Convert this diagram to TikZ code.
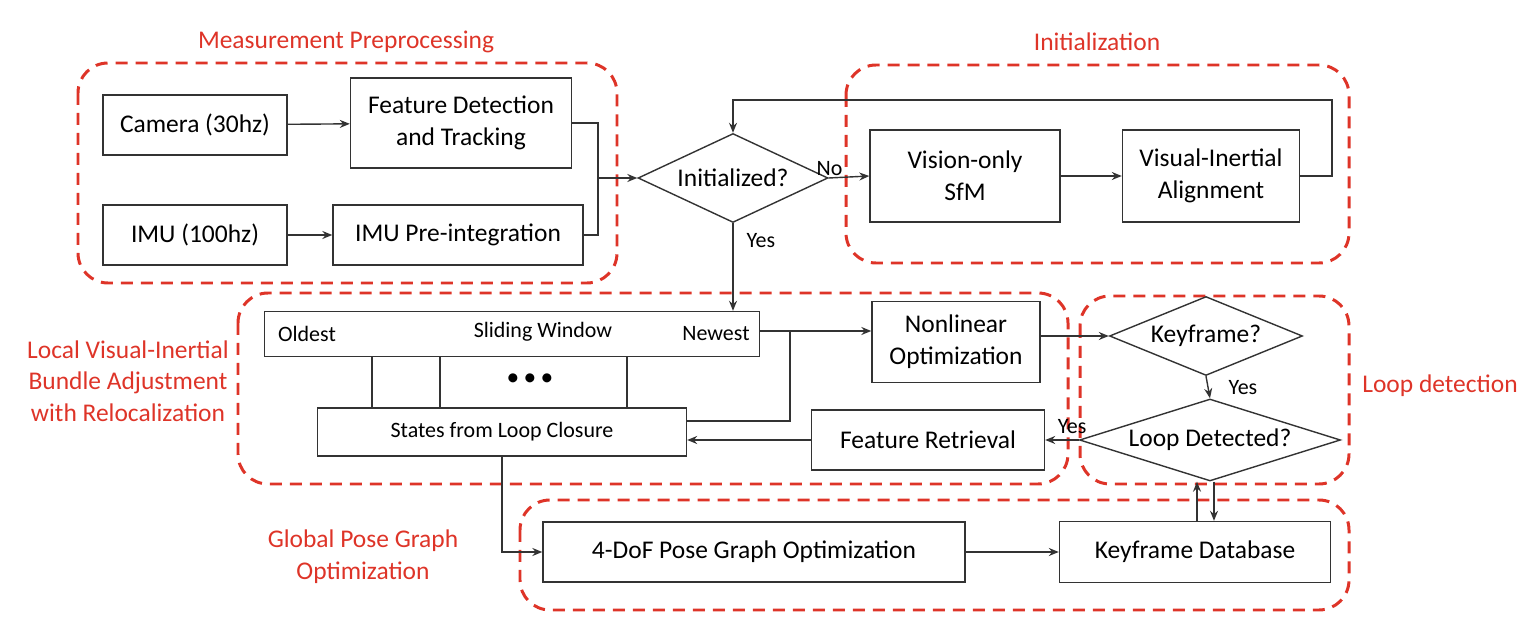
\documentclass[tikz,border=0pt]{standalone}
\usepackage{fontspec}
\setmainfont{Carlito}
\usetikzlibrary{arrows.meta,positioning,shapes.geometric}
\definecolor{grpred}{RGB}{222,52,40}
\begin{document}
\begin{tikzpicture}
  [x=0.02cm,y=-0.02cm,font=\fontsize{14.5}{18}\selectfont,
   block/.style={rectangle,draw=black!80,line width=0.8pt,align=center,inner sep=2pt},
   decision/.style={diamond,draw=black!80,line width=0.8pt,align=center,inner sep=0pt},
   group/.style={draw=grpred,line width=1.7pt,dash pattern=on 0.24cm off 0.16cm,rounded corners=0.6cm},
   grplabel/.style={text=grpred,align=center},
   small/.style={font=\fontsize{12.5}{15}\selectfont},
   flow/.style={line width=0.8pt,draw=black!80,-{Stealth[length=2mm,width=1.6mm]}},
   link/.style={line width=0.8pt,draw=black!80}]
  \useasboundingbox (0,0) rectangle (1539,621);
  % groups
  \draw[group] (78,63) rectangle (617,283);
  \draw[group] (846,65) rectangle (1349,263);
  \draw[group] (238,293) rectangle (1068,484);
  \draw[group] (1080,296) rectangle (1349,484);
  \draw[group] (520,500) rectangle (1349,610);
  \node[grplabel] (lbl_mp) at (346,42) {Measurement Preprocessing};
  \node[grplabel] (lbl_init) at (1097,42) {Initialization};
  \node[grplabel] (lbl_local) at (128,381) {Local Visual-Inertial\\Bundle Adjustment\\with Relocalization};
  \node[grplabel] (lbl_loop) at (1440,386) {Loop detection};
  \node[grplabel] (lbl_global) at (363,557) {Global Pose Graph\\Optimization};
  % blocks
  \node[block,minimum width=3.68cm,minimum height=1.2cm] (camera) at (195,125) {Camera (30hz)};
  \node[block,minimum width=4.42cm,minimum height=1.8cm] (feat) at (461,123) {Feature Detection\\and Tracking};
  \node[block,minimum width=3.68cm,minimum height=1.2cm] (imu) at (195,235) {IMU (100hz)};
  \node[block,minimum width=5cm,minimum height=1.2cm] (preint) at (458,235) {IMU Pre-integration};
  \node[decision,aspect=2.1,minimum width=3.8cm,minimum height=1.78cm] (initq) at (733,178) {Initialized?};
  \node[block,minimum width=3.8cm,minimum height=1.84cm] (sfm) at (965,176) {Vision-only\\SfM};
  \node[block,minimum width=3.54cm,minimum height=1.84cm] (align) at (1211,176) {Visual-Inertial\\Alignment};
  \node[block,minimum width=9.9cm,minimum height=0.9cm] (window) at (512,334) {};
  \node[small] (oldest) at (307,334) {Oldest};
  \node[small] (wintext) at (543,332) {Sliding Window};
  \node[small] (newest) at (716,334) {Newest};
  \node[block,small,minimum width=7.38cm,minimum height=0.96cm] (states) at (502,432) {States from Loop Closure};
  \node (dots) at (530,380) {\textbullet\,\textbullet\,\textbullet};
  \node[block,minimum width=3.36cm,minimum height=1.62cm] (nonlin) at (956,342) {Nonlinear\\Optimization};
  \node[block,minimum width=4.66cm,minimum height=1.2cm] (retrieve) at (928,440) {Feature Retrieval};
  \node[decision,aspect=2.45,minimum width=3.86cm,minimum height=1.58cm] (keyq) at (1206,336) {Keyframe?};
  \node[decision,aspect=3.2,minimum width=5.22cm,minimum height=1.64cm] (loopq) at (1210,440) {Loop Detected?};
  \node[block,minimum width=8.44cm,minimum height=1.2cm] (posegraph) at (754,552) {4-DoF Pose Graph Optimization};
  \node[block,minimum width=5.42cm,minimum height=1.22cm] (database) at (1195,552) {Keyframe Database};
  % connectors
  \coordinate (merge) at (598,178);
  \coordinate (back) at (1332,100);
  \coordinate (branch) at (790,331);
  \draw[flow] (camera) -- (feat);
  \draw[flow] (imu) -- (preint);
  \draw[link] (feat.east) -| (merge);
  \draw[link] (preint.east) -| (merge);
  \draw[flow] (merge) -- (initq.west);
  \draw[flow] (initq.east) -- node[above left=-3pt and 0pt,small] {No} (sfm.west);
  \draw[flow] (sfm) -- (align);
  \draw[flow] (align.east) -| (back) -| (initq.north);
  \draw[flow] (initq.south) -- node[right=4pt,pos=0.2,small] {Yes} (window.north -| initq.south);
  \draw[flow] (window.east |- branch) -- (branch -| nonlin.west);
  \draw[link] (branch) |- (states.east |- 0,421);
  \draw[link] (window.south -| 372,0) -- (states.north -| 372,0);
  \draw[link] (window.south -| 440,0) -- (states.north -| 440,0);
  \draw[link] (window.south -| 627,0) -- (states.north -| 627,0);
  \draw[flow] (nonlin.east |- keyq) -- (keyq.west);
  \draw[flow] (keyq.south) -- node[right=8pt,small] {Yes} (loopq.north);
  \draw[flow] (loopq.west) -- node[above=0pt,pos=0.2,small] {Yes} (retrieve.east);
  \draw[flow] (retrieve.west) -- (states.east |- retrieve.west);
  \draw[flow] (states.south) |- (posegraph.west);
  \draw[flow] (posegraph) -- (database);
  \draw[flow] (database.north -| 1197,0) -- (loopq.south -| 1197,0);
  \draw[flow] (loopq.south -| 1214,0) -- (database.north -| 1214,0);
\end{tikzpicture}
\end{document}
